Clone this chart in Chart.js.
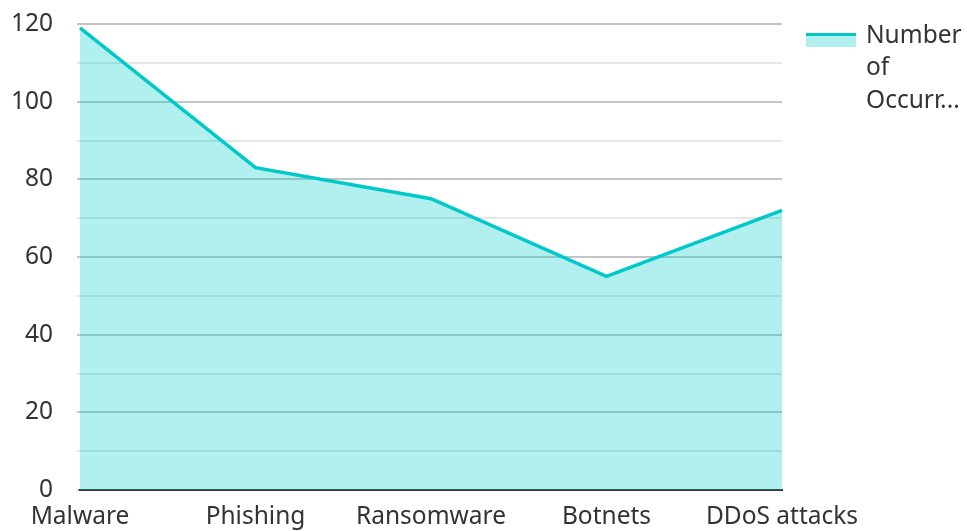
<!DOCTYPE html>
<html>
<head>
<meta charset="utf-8">
<script src="https://cdn.jsdelivr.net/npm/chart.js@4/dist/chart.umd.min.js"></script>
<style>
html,body{margin:0;padding:0;background:#fff;}
#wrap{width:967px;height:531px;position:relative;}
</style>
</head>
<body>
<div id="wrap"><canvas id="c" width="967" height="531"></canvas></div>
<script>
const categories = ['Malware', 'Phishing', 'Ransomware', 'Botnets', 'DDoS attacks'];
const occurrences = [119, 83, 75, 55, 72];
const seriesName = 'Number of Occurrences';
const legendLines = ['Number', 'of', 'Occurr...'];
const yTicks = [0, 20, 40, 60, 80, 100, 120];

const LINE = '#00c9c9';
const FILL = 'rgba(0,204,204,0.30)';
const TEXT = '#333333';
const FONT = '"Noto Sans", "Open Sans", sans-serif';
const FSIZE = 24.5;

const legendPlugin = {
  id: 'sideLegend',
  afterDraw(chart) {
    const ctx = chart.ctx;
    ctx.save();
    const x0 = 806, w = 50, y0 = 33;
    ctx.fillStyle = FILL;
    ctx.fillRect(x0, y0, w, 14);
    ctx.fillStyle = LINE;
    ctx.fillRect(x0, y0, w, 3);
    ctx.fillStyle = TEXT;
    ctx.font = FSIZE + 'px ' + FONT;
    ctx.textBaseline = 'middle';
    ctx.textAlign = 'left';
    legendLines.forEach((t, i) => ctx.fillText(t, 866, 36 + i * 32.5));
    ctx.restore();
  }
};

new Chart(document.getElementById('c'), {
  type: 'line',
  data: {
    labels: categories,
    datasets: [{
      label: seriesName,
      data: occurrences,
      borderColor: LINE,
      backgroundColor: FILL,
      borderWidth: 3.5,
      fill: 'origin',
      pointRadius: 0,
      tension: 0
    }]
  },
  options: {
    responsive: false,
    animation: false,
    layout: { padding: { top: 24, right: 185, left: 0, bottom: 0 } },
    plugins: { legend: { display: false }, tooltip: { enabled: false } },
    scales: {
      x: {
        offset: false,
        grid: { display: false, drawTicks: false },
        border: { display: true, color: '#333333', width: 2 },
        ticks: { color: TEXT, font: { family: FONT, size: FSIZE }, padding: 12, maxRotation: 0, autoSkip: false },
        afterFit(s) { s.height = 41; s.paddingLeft = 0; s.paddingRight = 0; }
      },
      y: {
        min: 0, max: 120,
        ticks: {
          stepSize: 10,
          color: TEXT,
          font: { family: FONT, size: FSIZE },
          padding: 24,
          callback: v => yTicks.includes(v) ? String(v) : ''
        },
        grid: {
          color: c => (c.tick && c.tick.value % 20 === 0) ? '#c4c4c4' : '#e6e6e6',
          lineWidth: 2,
          tickLength: 3,
          drawTicks: true
        },
        border: { display: false },
        afterFit(s) { s.width = 80; s.paddingTop = 0; s.paddingBottom = 0; }
      }
    }
  },
  plugins: [legendPlugin]
});
</script>
</body>
</html>
